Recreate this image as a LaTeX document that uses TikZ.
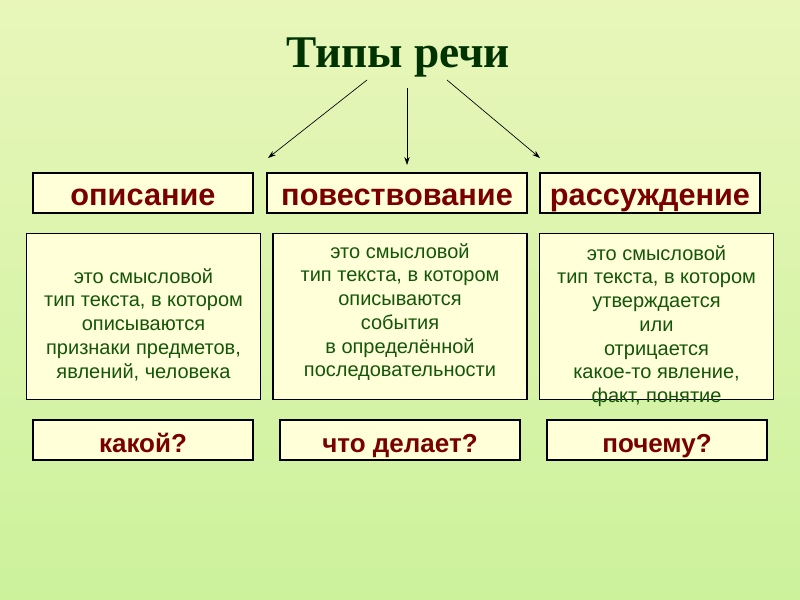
\documentclass[tikz,border=0pt]{standalone}
\usepackage{fontspec}
\usetikzlibrary{arrows.meta}
\setmainfont{Liberation Serif}
\newfontfamily\arialfont{Liberation Sans}
\definecolor{bgtop}{RGB}{232,246,186}
\definecolor{bgbot}{RGB}{204,242,156}
\definecolor{boxfill}{RGB}{255,255,216}
\definecolor{headred}{RGB}{122,0,0}
\definecolor{textgreen}{RGB}{20,85,10}
\definecolor{titlegreen}{RGB}{0,51,0}

\begin{document}
\begin{tikzpicture}
[x=0.75pt, y=-0.75pt,
 head/.style={draw=black, line width=0.9pt, fill=boxfill, rectangle, inner sep=0pt,
   minimum height=30pt, text height=19pt, text depth=1pt,
   font={\arialfont\bfseries\fontsize{23}{26}\selectfont}, text=headred},
 ask/.style={head, font={\arialfont\bfseries\fontsize{19.5}{22}\selectfont}},
 panel/.style={draw=black, line width=0.9pt, fill=boxfill, rectangle, inner sep=0pt,
   minimum height=125pt, minimum width=175pt},
 desc/.style={align=center, inner sep=0pt, text=textgreen,
   font={\arialfont\fontsize{15}{17.8}\selectfont}},
 tip/.style={-{Stealth[length=6pt,width=4pt]}, line width=0.5pt}]
\useasboundingbox (0,0) rectangle (800,600);
\shade[top color=bgtop, bottom color=bgbot] (0,0) rectangle (800,600);

\node (title) at (398,57) [font={\bfseries\fontsize{34}{38}\selectfont}, text=titlegreen] {Типы речи};

\node (h1) at (143,193) [head, minimum width=165pt] {описание};
\node (h2) at (397,193) [head, minimum width=195pt] {повествование};
\node (h3) at (650,193) [head, minimum width=165pt] {рассуждение};

\node (p1) at (143.5,316.5) [panel] {};
\node (p2) at (400,316.5) [panel, minimum width=190.5pt] {};
\node (p3) at (656.5,316.5) [panel] {};

\node (d1) at (143.5,324.5) [desc] {это смысловой\\ тип текста, в котором\\ описываются\\ признаки предметов,\\ явлений, человека};
\node (d2) at (400,243) [desc, anchor=north] {это смысловой\\ тип текста, в котором\\ описываются\\ события\\ в определённой\\ последовательности};
\node (d3) at (656.5,245) [desc, anchor=north] {это смысловой\\ тип текста, в котором\\ утверждается\\ или\\ отрицается\\ какое-то явление,\\ факт, понятие};

\node (q1) at (143,440) [ask, minimum width=165pt] {какой?};
\node (q2) at (400,440) [ask, minimum width=180pt] {что делает?};
\node (q3) at (657,440) [ask, minimum width=165pt] {почему?};

\coordinate (s1) at (367,80);
\coordinate (s2) at (407,88);
\coordinate (s3) at (447,80);
\coordinate (e1) at (268,158);
\coordinate (e2) at (407,165);
\coordinate (e3) at (540,158);

\draw[tip] (s1) -- (e1);
\draw[tip] (s2) -- (e2);
\draw[tip] (s3) -- (e3);
\end{tikzpicture}
\end{document}
